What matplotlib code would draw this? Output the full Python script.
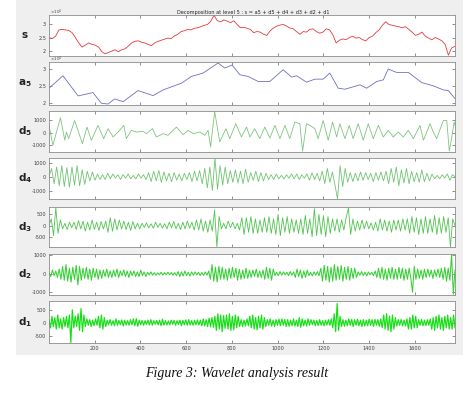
import numpy as np
import matplotlib
matplotlib.use("Agg")
import matplotlib.pyplot as plt
from matplotlib.patches import Rectangle

# ---------------- data ----------------
N_SAMPLES = 1775

# s, in units of 10^4 (uniformly spaced over the samples)
s_e4 = [2.50, 2.46, 2.55, 2.78, 2.80, 2.78, 2.76, 2.68, 2.50, 2.30, 2.15, 2.22, 2.30, 2.25,
        2.22, 2.15, 1.98, 1.90, 1.95, 2.00, 2.05, 1.98, 2.05, 2.08, 2.18, 2.30, 2.36, 2.38,
        2.33, 2.30, 2.25, 2.20, 2.30, 2.36, 2.40, 2.44, 2.48, 2.46, 2.56, 2.62, 2.72, 2.75,
        2.80, 2.78, 2.84, 2.86, 2.90, 2.95, 2.98, 3.10, 3.32, 3.12, 3.08, 3.15, 3.10, 3.05,
        3.12, 2.98, 2.86, 2.88, 2.84, 2.80, 2.68, 2.72, 2.70, 2.62, 2.58, 2.75, 2.85, 2.92,
        2.96, 2.98, 2.92, 2.85, 2.82, 2.72, 2.62, 2.72, 2.70, 2.80, 2.82, 2.72, 2.66, 2.70,
        2.82, 2.78, 2.60, 2.30, 2.40, 2.45, 2.42, 2.50, 2.55, 2.48, 2.50, 2.42, 2.38, 2.50,
        2.55, 2.68, 2.78, 2.95, 3.08, 2.98, 2.95, 2.92, 2.90, 2.86, 2.90, 2.80, 2.70, 2.58,
        2.62, 2.70, 2.55, 2.48, 2.42, 2.50, 2.45, 2.38, 2.25, 1.85, 2.12, 2.18]

# a5, in units of 10^4, at the given sample positions
a5_t = [1, 62, 128, 193, 230, 259, 288, 325, 390, 456, 500, 580, 623, 674, 740, 769, 801,
        835, 871, 915, 966, 1024, 1061, 1083, 1126, 1163, 1199, 1228, 1265, 1294, 1360,
        1389, 1433, 1462, 1483, 1520, 1571, 1629, 1680, 1724, 1746, 1775]
a5_e4 = [2.43, 2.80, 2.20, 2.30, 1.98, 1.96, 2.11, 2.03, 2.36, 2.21, 2.38, 2.58, 2.78, 2.88,
         3.18, 3.03, 3.12, 2.83, 2.78, 2.63, 2.63, 2.98, 2.76, 2.80, 2.61, 2.70, 2.70, 2.88,
         2.43, 2.40, 2.53, 2.43, 2.63, 2.68, 3.00, 2.90, 2.90, 2.60, 2.50, 2.38, 2.36, 2.12]

# d5 at the given sample positions
d5_t = [1, 18, 51, 70, 77, 87, 113, 147, 167, 186, 215, 240, 259, 281, 303, 328, 339, 361,
        383, 412, 427, 453, 470, 500, 521, 558, 587, 609, 631, 660, 682, 696, 707, 725, 747,
        774, 791, 817, 842, 864, 879, 900, 922, 944, 966, 988, 1010, 1032, 1053, 1075, 1097,
        1109, 1126, 1141, 1163, 1177, 1199, 1221, 1240, 1258, 1272, 1294, 1313, 1330, 1352,
        1374, 1396, 1418, 1440, 1462, 1483, 1505, 1527, 1549, 1571, 1593, 1622, 1637, 1666,
        1680, 1695, 1724, 1739, 1750, 1760, 1771, 1775]
d5 = [570, -990, 1170, -600, 50, -470, 960, -860, 440, -600, 570, -470, 310, -340, 50, 570,
      -470, 180, 50, 100, -80, 310, -340, -80, -210, 440, -160, 180, -80, 50, -210, 180,
      -1120, 1660, -730, 310, -470, 700, -340, 440, -340, 310, -470, 440, -420, 570, -470,
      570, -470, 830, 700, -1450, 700, 570, 310, -470, 960, -600, 830, -340, 700, -470, 570,
      -470, 700, -600, 700, -470, 570, -340, 180, -340, 50, -340, 180, -470, 570, -600, 700,
      50, -470, 960, 960, -1450, -470, 830, 570]

# d4, uniformly spaced over the samples
d4 = [0, 600, -500, 700, -650, 800, -700, 650, -750, 700, -600, 800, -650, 500, -550,
      400, -300, 350, -250, 200, -200, 150, -200, 250, -150, 200, -100, 150, -200, 150, -100,
      200, -150, 100, -150, 200, -100, 150, -200,
      300, -350, 400, -300, 450, -400, 350, -300, 250, -350, 300, -250, 200, -300, 250, -200,
      300, -350, 400, -300, 450,
      -500, 600, -800, 700, -1000, 1340, -900, 800, -600, 700, -500, 450, -400,
      500, -450, 400, -500, 550, -400, 300, -250,
      400, -350, 300, -300, 250, -200, 150, -200, 200, -150, 100, -150,
      150, -100, 200, -150, 200, -200, 150, -100, 200, -250, 300, -200, 250, -300,
      400, -500, 600, -400, 350, -600,
      -1600, 800,
      -700, 600, -400, 300, -350, 250, -300, 350, -250, 300, -200, 250, -350, 300, -250, 350, -300,
      400, -500, 600, -400, 700, -650, 500, -450, 600, -500, 400, -350, 300,
      -400, 500, -350, 250, -300, 200, -150, 100, -150, 150, -100, 200, -250, 150, 0]

# d3, uniformly spaced over the samples
d3 = [0, 300, -450, 800, -350, 250,
      -150, 100, -180, 150, -100, 150,
      -180, 220, -150, 200, -250, 150, -200, 250, -180, 150, -220, 180, -150, 200,
      -300, 350, -250, 300, -200, 250, -150, 200, -180, 150, -220, 180, -150, 100, -150,
      100, -80, 120, -100, 80, -120, 150, -80, 100, -120, 80,
      -150, 150, -100, 180, -150, 100, -180, 150, -150, 200, -120, 150, -200,
      250, -200, 300, -250, 200, -300, 250, -250,
      700, -950, 400,
      -150, 100, -150, 200, -100, 150, -150, 100, -200, 350, -400,
      350, -300, 400, -350, 300, -350, 250, -300, 350, -300, 400, -350, 300, -400, 500,
      -450, 350, -300, 400, -350, 300, -300, 250, -350, 300, -400, 450, -350, 300, -500, 750,
      -450, 500, -400, 450, -500, 400, -350, 300,
      -250, 300, -300, 250, -200, 350, 780, -400, 300, -250, 200, -200, 250, -150, 200, -150,
      120, -200, 150,
      -250, 300, -200, 250, -250, 200, -300, 250, -200, 250, -250, 300, -200,
      300, -350, 400, -300, 350, -400, 300, -350, 400, -350, 300, -300, 450, -400, 350, -350,
      400, -300, 350,
      -950, 300, 0]

# d2, uniformly spaced over the samples
d2 = [50, -150, 200, -100, 150, -200, 250,
      -300, 400, -350, 500, -400, 300, -450, 350, -300, 450, -600, 400, -350,
      300, -250, 350, -300, 250, -350, 300, -200, 250, -300, 200, -250,
      200, -150, 250, -200, 150, -200, 200, -150, 250, -200, 150, -100, 200, -150, 150, -200,
      150, -100, 150, -150, 100, -150, 200, -100, 100, -150,
      80, -60, 100, -80, 60, -80, 50, -60, 80, -70, 60, -50, 80, -60, 70, -80, 60,
      -100, 120, -150, 100, -120, 150, -100, 80, -120, 100,
      -80, 100, -60, 80, -100, 70, -90, 100, -80, 150,
      -300, 500, -400, 350, -450, 400, -300, 350,
      -300, 250, -350, 300, -250, 350, -200, 300, -350, 250, -300, 200, -250, 300, -250, 200, -200,
      200, -150, 250, -200, 150, -200, 200,
      -300, 350, -250, 300, -350, 250,
      -100, 80, -100, 120, -80, 100, -60, 80, -100, 120, -80, 100,
      -200, 250, -150, 200, -250, 150, -200, 200,
      -100, 80, -120, 100, -80, 120, -100,
      300, -400, 450, -350, 400, -450, 350, -400, 500, -350, 400, -300, 450, -400, 350, -300,
      400, -350, 300, -250, 300, -200,
      100, -80, 120, -100, 80, -120, 100, -60, 80, -100, 150, -200,
      300, -250, 350, -300, 250, -350, 300, -250, 350, -300, 250, -300, 350, -250, 300, -350,
      250, -300, 300, -250,
      -1000, 400, -300, 250,
      -250, 200, -300, 250, -200, 250, -150, 200, -250, 200, -150, 250, -200, 300, -300,
      350, -400, 300, -350, 1050, -1100, 200]

# d1, uniformly spaced over the samples
d1 = [100, -200, 250, -150, 200, -250, 300, -200, 150, -250,
      200, -150, 250, -200, 300,
      -780, 500,
      -200, 250, -150,
      350, -300, 550, -350, 300,
      -150, 150, -100, 120, -150, 100, -120, 150, -100,
      250, -200, 300, -250, 200, -150,
      100, -80, 120, -100, 80, -120, 150, -100, 90, -80,
      110, -130, 100, -90, 80, -100, 120, -80, 150, -120,
      160, -140, 100, -80, 90, -100, 80, -70, 100, -90,
      120, -100, 80, -60, 90, -80, 100, -120, 140, -100,
      80, -90, 70, -80, 100, -60, 90, -100, 80, -70,
      100, -120, 90, -80, 110, -100, 120, -90, 80, -100,
      90, -80, 110, -90, 100, -120, 150, -130, 120, -150,
      180, -160, 200, -180,
      250, -300, 350, -250, 300, -350, 280, -220, 300, -250, 350, -300, 250, -280, 300, -200, 250,
      -150, 120, -150, 100, -130, 150, -120,
      250, -200, 300, -250, 200, -280, 250, -200, 300, -250, 200,
      -150, 120, -100, 150, -130, 100, -150, 120, -100, 140,
      -120, 150, -100, 130, -150, 120, -140, 100, -120, 150,
      -130, 100, -150, 200, -180, 150, -120, 100, -130, 150,
      -100, 120, -80, 100, -120, 90, -110, 120, -100, 80, -120, 100, -90, 120, -100, 150, -200,
      350, -350, 750, -300, 250,
      -150, 120, -140, 100, -120, 150, -100, 130, -150, 120,
      -100, 140, -120, 100, -150, 120, -130, 100, -120, 140,
      -100, 120, -150, 130, -100, 120, -140, 150, -200,
      300, -250, 350, -300, 250, -350, 300, -250, 200,
      -130, 120, -100, 130, -120, 100, -130, 150,
      -250, 200, -250, 300, -200, 250, -200,
      120, -100, 130, -120, 100, -110, 120, -100, 150,
      -250, 200, -300, 250, -200, 300, -250, 200, -300, 250, -200, 300, -250, 200, -250, 300, -200]

x_ticks = [200, 400, 600, 800, 1000, 1200, 1400, 1600]
title_text = "Decomposition at level 5 : s = a5 + d5 + d4 + d3 + d2 + d1"
caption = "Figure 3: Wavelet analysis result"

# ---------------- figure ----------------
W, H = 474, 394
fig = plt.figure(figsize=(W / 100, H / 100), dpi=100, facecolor="white")
bg = Rectangle((16 / W, 1 - 355 / H), (463 - 16) / W, 355 / H,
               transform=fig.transFigure, facecolor="#efefef",
               edgecolor="none", zorder=-10)
fig.add_artist(bg)

def uni(vals):
    return np.linspace(1, N_SAMPLES, len(vals))

panels = [
    # (top px, bottom px, x, y, color, line width, ylim, yticks, ytick labels, label)
    (15, 56, uni(s_e4), s_e4, "#e03c3c", 0.6, (1.82, 3.33), [2, 2.5, 3], ["2", "2.5", "3"], r"$\mathbf{s}$"),
    (62, 105, a5_t, a5_e4, "#6f6fc0", 0.6, (1.93, 3.21), [2, 2.5, 3], ["2", "2.5", "3"], r"$\mathbf{a_5}$"),
    (111, 152, d5_t, d5, "#80c480", 0.6, (-1520, 1700), [-1000, 0, 1000], ["-1000", "0", "1000"], r"$\mathbf{d_5}$"),
    (158, 199, uni(d4), d4, "#70c470", 0.6, (-1600, 1350), [-1000, 0, 1000], ["-1000", "0", "1000"], r"$\mathbf{d_4}$"),
    (207, 247, uni(d3), d3, "#50c450", 0.6, (-960, 830), [-500, 0, 500], ["-500", "0", "500"], r"$\mathbf{d_3}$"),
    (254, 295, uni(d2), d2, "#34d034", 0.75, (-1150, 1070), [-1000, 0, 1000], ["-1000", "0", "1000"], r"$\mathbf{d_2}$"),
    (301, 343, uni(d1), d1, "#12e012", 0.85, (-790, 845), [-500, 0, 500], ["-500", "0", "500"], r"$\mathbf{d_1}$"),
]

left = 49 / W
width = (455 - 49) / W
for k, (top, bot, xs, ys, col, lw, yl, yt, ytl, lab) in enumerate(panels):
    ax = fig.add_axes([left, 1 - bot / H, width, (bot - top) / H])
    ax.set_facecolor("white")
    ax.plot(xs, ys, color=col, lw=lw)
    ax.set_xlim(1, N_SAMPLES)
    ax.set_ylim(*yl)
    ax.set_yticks(yt)
    ax.set_yticklabels(ytl)
    ax.set_xticks(x_ticks)
    if k == len(panels) - 1:
        ax.set_xticklabels([str(t) for t in x_ticks])
    else:
        ax.set_xticklabels([])
    ax.tick_params(direction="in", length=2, width=0.5, labelsize=3.6,
                   colors="#606060", labelcolor="#404040", pad=2,
                   top=True, right=True)
    for sp in ax.spines.values():
        sp.set_color("#8c8c8c")
        sp.set_linewidth(0.6)
    fig.text(25 / W, 1 - (top + bot) / 2 / H, lab, fontsize=7.5, ha="center",
             va="center", color="#222222")
    if k < 2:
        fig.text(50 / W, 1 - (top - 3) / H, r"$\times\,10^4$", fontsize=2.8,
                 ha="left", va="center", color="#404040")

fig.text(253 / W, 1 - 12.5 / H, title_text, fontsize=3.6, ha="center", va="center",
         color="#222222")
fig.text(237 / W, 1 - 373 / H, caption, fontsize=10, ha="center", va="center",
         family="Liberation Serif", style="italic", color="#111111")

fig.savefig("out.png", dpi=100, facecolor="white")
